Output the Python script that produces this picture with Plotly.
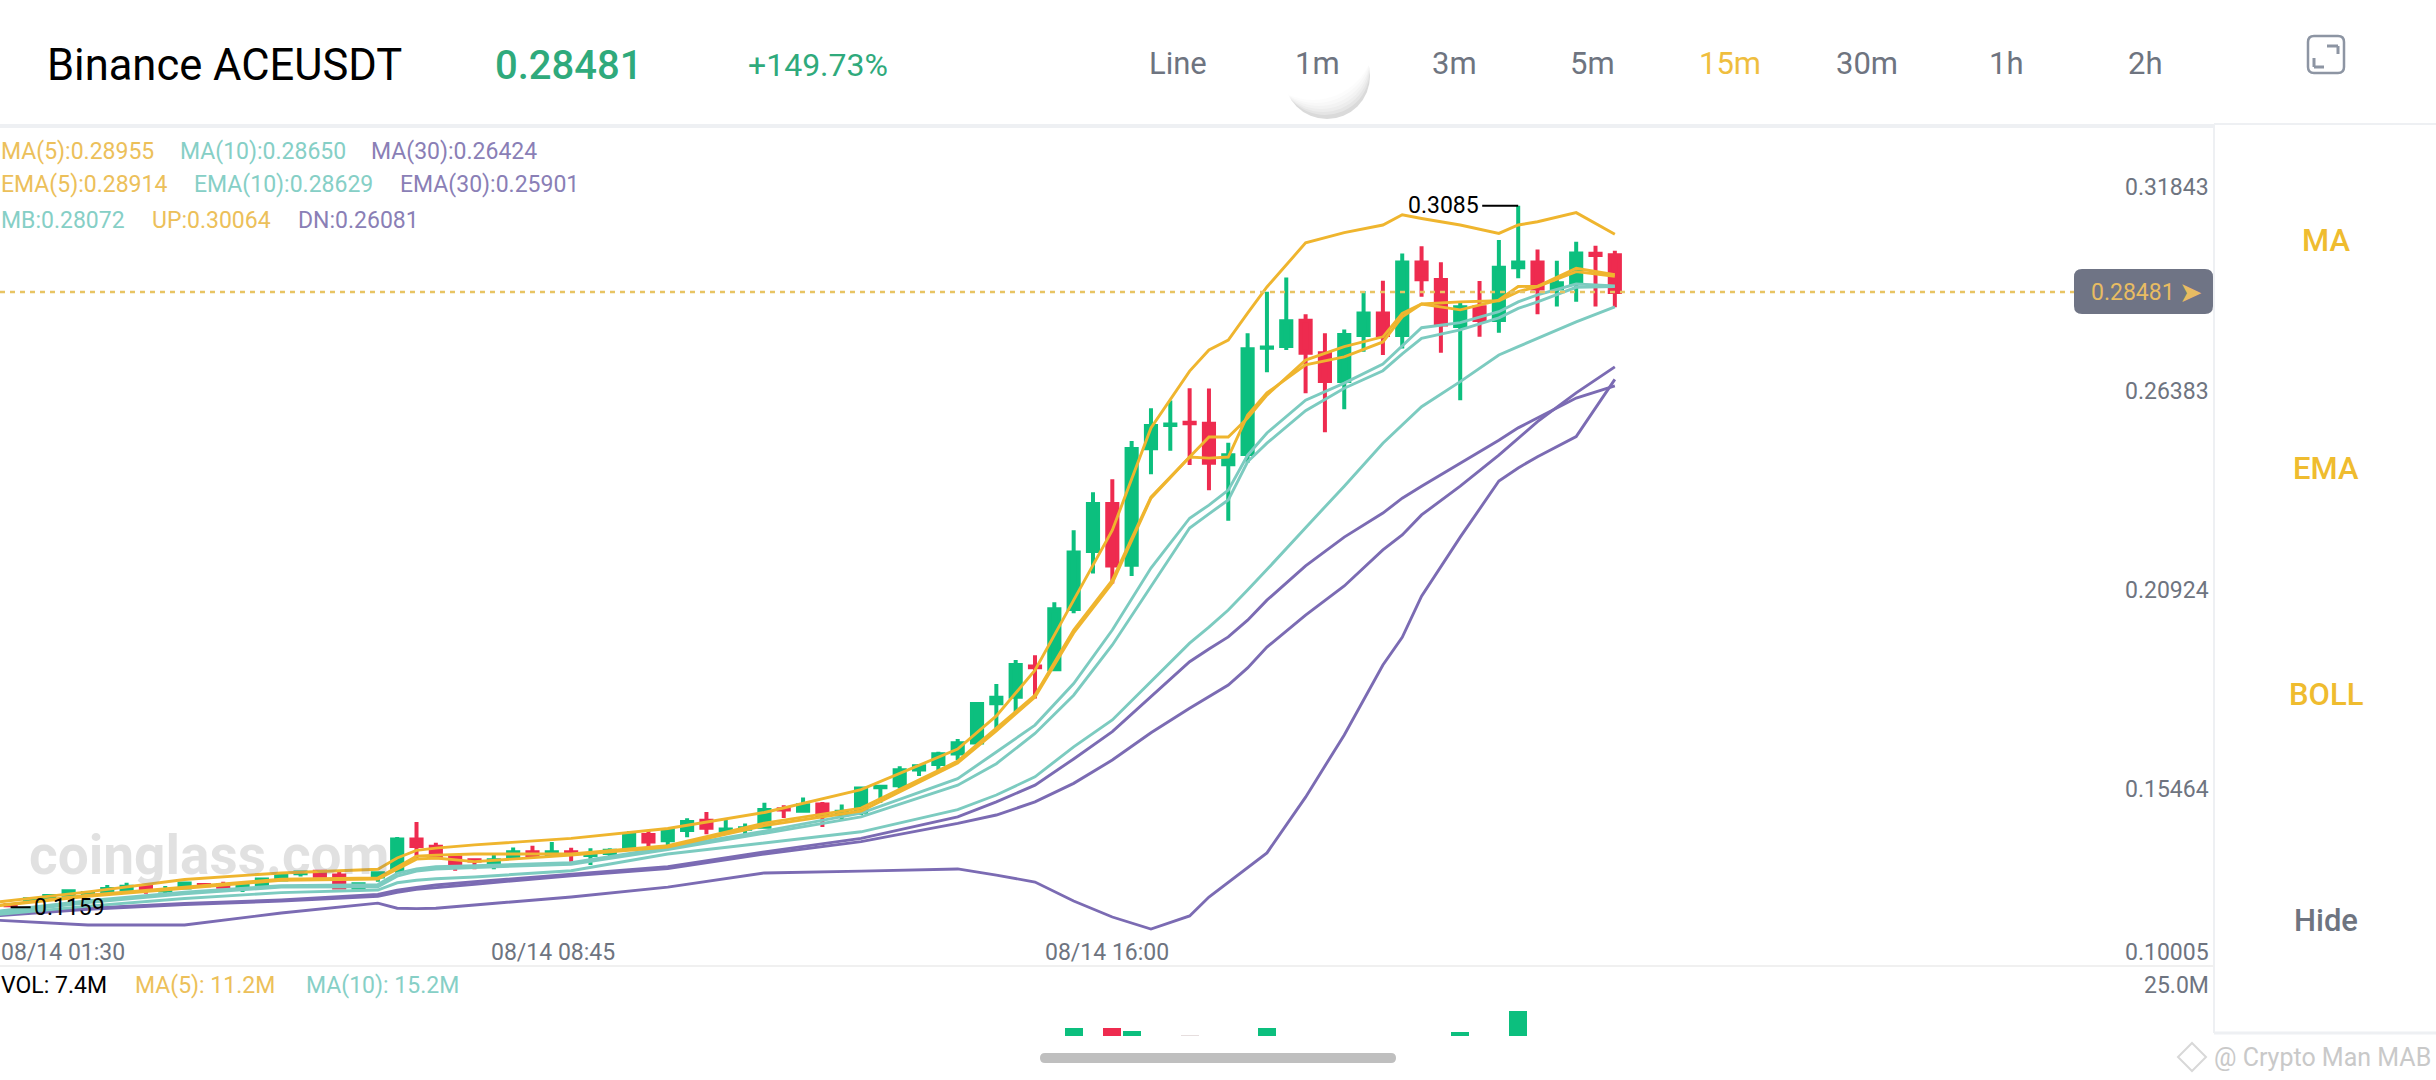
import pandas as pd
import plotly.graph_objects as go

W, H = 2436, 1080

# candles, 15 minutes apart
times = pd.date_range("2023-08-14 01:30", periods=85, freq="15min")
opens = [.1161, .1165, .1176, .1183, .1193, .1195, .1201, .1208, .1217, .1205,
         .1213, .1220, .1219, .1216, .1222, .1235, .1252, .1256, .1246, .1213,
         .1243, .1261, .1345, .1325, .1296, .1288, .1282, .1296, .1310, .1305,
         .1310, .1302, .1308, .1320, .1357, .1343, .1371, .1396, .1370, .1374,
         .1380, .1428, .1424, .1441, .1414, .1421, .1488, .1494, .1537, .1552,
         .1581, .1611, .1719, .1737, .1820, .1812, .1978, .2137, .2266, .2099,
         .2419, .2483, .2489, .2486, .2375, .2403, .2695, .2700, .2769, .2680,
         .2604, .2730, .2789, .2730, .2929, .2881, .2755, .2806, .2771, .2916,
         .2929, .2858, .2872, .2953, .2949]
closes = [.1162, .1164, .1181, .1190, .1203, .1198, .1209, .1215, .1208, .1206,
          .1224, .1219, .1215, .1217, .1235, .1250, .1254, .1245, .1213, .1222,
          .1252, .1345, .1327, .1296, .1279, .1287, .1288, .1310, .1301, .1310,
          .1307, .1303, .1314, .1357, .1339, .1371, .1393, .1377, .1372, .1376,
          .1426, .1427, .1439, .1412, .1421, .1485, .1490, .1535, .1546, .1579,
          .1609, .1717, .1734, .1824, .1818, .1977, .2133, .2266, .2097, .2417,
          .2480, .2484, .2488, .2379, .2400, .2691, .2696, .2768, .2681, .2604,
          .2730, .2789, .2730, .2929, .2883, .2759, .2806, .2771, .2915, .2929,
          .2858, .2872, .2954, .2950, .28481]
highs = [.1165, .1168, .1184, .1192, .1206, .1202, .1220, .1226, .1221, .1217,
         .1229, .1222, .1229, .1222, .1239, .1253, .1256, .1261, .1259, .1223,
         .1253, .1352, .1393, .1336, .1305, .1293, .1304, .1323, .1328, .1338,
         .1322, .1321, .1321, .1368, .1369, .1374, .1403, .1420, .1400, .1389,
         .1446, .1439, .1460, .1448, .1441, .1490, .1492, .1546, .1552, .1586,
         .1621, .1720, .1772, .1838, .1851, .1996, .2194, .2298, .2334, .2439,
         .2529, .2550, .2584, .2583, .2434, .2735, .2849, .2888, .2787, .2735,
         .2745, .2851, .2879, .2954, .2974, .2930, .2821, .2878, .2991, .3085,
         .2965, .2934, .2986, .2975, .2961]
lows = [.1160, .1159, .1174, .1180, .1189, .1191, .1198, .1198, .1196, .1198,
        .1210, .1213, .1213, .1201, .1220, .1231, .1243, .1243, .1212, .1212,
        .1229, .1250, .1293, .1296, .1259, .1263, .1263, .1293, .1296, .1297,
        .1284, .1275, .1296, .1320, .1320, .1329, .1351, .1359, .1357, .1359,
        .1379, .1404, .1418, .1379, .1396, .1412, .1446, .1485, .1519, .1531,
        .1563, .1609, .1650, .1691, .1732, .1810, .1966, .2075, .2048, .2068,
        .2348, .2412, .2373, .2304, .2220, .2379, .2628, .2689, .2570, .2463,
        .2526, .2684, .2675, .2693, .2835, .2681, .2551, .2725, .2736, .2886,
        .2787, .2808, .2821, .2808, .2806]

# indicator readings at these candles
line_idx = [0, 5, 10, 15, 20, 21, 22, 23, 25, 30, 35, 40, 45, 50, 52, 54, 56, 58, 60,
            62, 63, 64, 65, 66, 68, 70, 72, 73, 74, 76, 78, 79, 80, 82, 84]
up = [.1171, .1201, .1235, .1253, .1263, .1294, .1315, .1321, .1330, .1348, .1375,
      .1419, .1482, .1593, .1684, .1810, .2002, .2194, .2475, .2631, .2689, .2716,
      .2790, .2862, .2983, .3011, .3032, .3060, .3050, .3032, .3009, .3032, .3041, .3066, .30064]
ma5 = [.1162, .1192, .1214, .1236, .1239, .1270, .1299, .1302, .1305, .1305, .1328,
       .1390, .1431, .1560, .1651, .1741, .1920, .2057, .2285, .2395, .2392, .2395,
       .2510, .2571, .2648, .2670, .2711, .2780, .2815, .2799, .2826, .2863, .2864, .2913, .28955]
ema5 = [.1161, .1189, .1211, .1233, .1236, .1263, .1291, .1294, .1284, .1302, .1324,
        .1383, .1423, .1555, .1643, .1736, .1912, .2049, .2282, .2395, .2450, .2450,
        .2502, .2565, .2661, .2698, .2725, .2789, .2815, .2821, .2824, .2849, .2863, .2904, .28914]
ma10 = [.1146, .1177, .1200, .1218, .1221, .1252, .1264, .1270, .1273, .1281, .1323,
        .1368, .1417, .1512, .1585, .1659, .1773, .1920, .2090, .2227, .2263, .2304,
        .2400, .2461, .2551, .2598, .2650, .2700, .2750, .2764, .2794, .2821, .2840, .2870, .28650]
ema10 = [.1141, .1172, .1196, .1214, .1215, .1244, .1258, .1264, .1268, .1277, .1317,
         .1362, .1407, .1494, .1553, .1636, .1741, .1879, .2041, .2200, .2239, .2277,
         .2382, .2433, .2522, .2584, .2632, .2678, .2721, .2744, .2777, .2803, .2821, .2861, .28629]
mb = [.1137, .1162, .1183, .1199, .1206, .1226, .1233, .1237, .1242, .1259, .1305,
      .1336, .1366, .1427, .1467, .1517, .1599, .1673, .1778, .1884, .1928, .1975,
      .2030, .2086, .2201, .2315, .2433, .2483, .2533, .2602, .2675, .2698, .2721, .2766, .28072]
ema30 = [.1140, .1156, .1169, .1179, .1194, .1206, .1213, .1220, .1229, .1250, .1270,
         .1311, .1348, .1407, .1448, .1494, .1566, .1641, .1737, .1833, .1868, .1901,
         .1947, .2002, .2096, .2175, .2241, .2282, .2315, .2378, .2441, .2475, .2502, .2557, .25901]
ma30 = [.1134, .1153, .1166, .1176, .1189, .1200, .1208, .1213, .1222, .1245, .1265,
        .1305, .1339, .1389, .1412, .1448, .1499, .1563, .1638, .1705, .1736, .1769,
        .1816, .1873, .1961, .2041, .2140, .2181, .2236, .2315, .2400, .2447, .2492, .2571, .26424]
dn = [.1124, .1110, .1110, .1143, .1170, .1156, .1155, .1156, .1165, .1187, .1214,
      .1253, .1258, .1264, .1247, .1228, .1176, .1132, .1099, .1135, .1187, .1228,
      .1269, .1308, .1461, .1632, .1824, .1900, .2013, .2175, .2329, .2365, .2396, .2451, .26081]

# only the tallest volume bars show above the cut-off panel
vol_idx = [56, 58, 59, 62, 66, 76, 79]
vol_values = [12.7, 12.6, 12.0, 11.2, 12.7, 11.9, 16.1]
vol_colors = ["#0CBF7E", "#EE2B4F", "#0CBF7E", "#E6DEDE", "#0CBF7E", "#0CBF7E", "#0CBF7E"]

last_price = 0.28481
y_ticks = [0.31843, 0.26383, 0.20924, 0.15464, 0.10005]
y_tick_labels = ["0.31843", "0.26383", "0.20924", "0.15464", "0.10005"]
x_tick_labels = ["08/14 01:30", "08/14 08:45", "08/14 16:00"]
intervals = ["Line", "1m", "3m", "5m", "15m", "30m", "1h", "2h"]
side_buttons = ["MA", "EMA", "BOLL", "Hide"]

ORANGE = "#EFB52E"
TEAL = "#7CCBC0"
PURPLE = "#7B6BB3"
T_ORANGE = "#ECC05A"
T_TEAL = "#86CFC6"
T_PURPLE = "#8A7FB6"
GREY = "#6E7480"
FONT = "Roboto"

fig = go.Figure()

fig.add_trace(go.Candlestick(
    x=times, open=opens, high=highs, low=lows, close=closes,
    increasing=dict(line=dict(color="#0CBF7E", width=4), fillcolor="#0CBF7E"),
    decreasing=dict(line=dict(color="#EE2B4F", width=4), fillcolor="#EE2B4F"),
    whiskerwidth=0, showlegend=False,
))

line_times = times[line_idx]
for values, color in [(dn, PURPLE), (ma30, PURPLE), (ema30, PURPLE), (mb, TEAL),
                      (ema10, TEAL), (ma10, TEAL), (up, ORANGE), (ema5, ORANGE), (ma5, ORANGE)]:
    fig.add_trace(go.Scatter(x=line_times, y=values, mode="lines",
                             line=dict(color=color, width=2.9), showlegend=False))

fig.add_trace(go.Bar(x=times[vol_idx], y=vol_values, yaxis="y2", width=838000,
                     marker=dict(color=vol_colors, line=dict(width=0)), showlegend=False))


def pa(x, y):
    return dict(x=x / W, y=1 - y / H, xref="paper", yref="paper")


def label(x, y, text, size=23, color=GREY, anchor="left", weight=None, family=FONT):
    fig.add_annotation(**pa(x, y), text=text, showarrow=False, xanchor=anchor, yanchor="middle",
                       borderpad=0, font=dict(size=size, color=color, family=family, weight=weight))


def round_rect(x0, y0, x1, y1, r):
    X = lambda v: v / W
    Y = lambda v: 1 - v / H
    return (f"M{X(x0 + r)},{Y(y0)} L{X(x1 - r)},{Y(y0)} Q{X(x1)},{Y(y0)} {X(x1)},{Y(y0 + r)} "
            f"L{X(x1)},{Y(y1 - r)} Q{X(x1)},{Y(y1)} {X(x1 - r)},{Y(y1)} "
            f"L{X(x0 + r)},{Y(y1)} Q{X(x0)},{Y(y1)} {X(x0)},{Y(y1 - r)} "
            f"L{X(x0)},{Y(y0 + r)} Q{X(x0)},{Y(y0)} {X(x0 + r)},{Y(y0)} Z")


def px_line(x0, y0, x1, y1, color, width):
    fig.add_shape(type="line", xref="paper", yref="paper", x0=x0 / W, x1=x1 / W,
                  y0=1 - y0 / H, y1=1 - y1 / H, line=dict(color=color, width=width))


def px_path(path, fill=None, line=None, width=0):
    fig.add_shape(type="path", xref="paper", yref="paper", path=path, fillcolor=fill,
                  line=dict(color=line, width=width))


# press ripple behind "1m": soft grey low down, fading upward to white
for dx, dy, r, color, op in [(0, 0, 43, "#DADADA", 1), (-2, -6, 45, "#FFFFFF", .3), (-4, -11, 47, "#FFFFFF", .3),
                             (-6, -16, 49, "#FFFFFF", .35), (-8, -22, 52, "#FFFFFF", .4),
                             (-11, -29, 56, "#FFFFFF", .55), (-14, -38, 62, "#FFFFFF", .8)]:
    fig.add_shape(type="circle", xref="paper", yref="paper", line=dict(width=0), fillcolor=color, opacity=op,
                  x0=(1327 + dx - r) / W, x1=(1327 + dx + r) / W,
                  y0=1 - (76 + dy + r) / H, y1=1 - (76 + dy - r) / H)

# frame lines
px_line(0, 126, 2214, 126, "#EEF0F3", 4)
px_line(2214, 124, W, 124, "#EEF0F3", 2)
px_line(2214, 124, 2214, 1033, "#EEF0F3", 2)
px_line(2214, 1033, W, 1033, "#EEF0F3", 3)
px_line(0, 966, 2214, 966, "#F0F0F0", 2)

# last price line and tag
fig.add_shape(type="line", xref="paper", yref="y", x0=0, x1=2074 / W, y0=last_price, y1=last_price,
              line=dict(color="#E8C463", width=2.5, dash="5px,5px"))
px_path(round_rect(2074, 269, 2213, 314, 8), fill="#6F7485")
label(2090, 292, f"{last_price:.5f}", color="#E8BC62")
label(2178, 292, "➤", size=28, color="#E8BC62", family="DejaVu Sans")

# scroll pill
px_path(round_rect(1040, 1053, 1396, 1063, 5), fill="#BFBFBF")

# expand icon
px_path(round_rect(2308, 36, 2344, 73, 6), line="#8D95A3", width=2.5)
px_line(2327, 46, 2338, 46, "#8D95A3", 3)
px_line(2338, 46, 2338, 54, "#8D95A3", 3)
px_line(2314, 58, 2314, 67, "#8D95A3", 3)
px_line(2314, 67, 2324, 67, "#8D95A3", 3)

# source mark icon
px_path(f"M{2192/W},{1-1043/H} L{2206/W},{1-1057/H} L{2192/W},{1-1071/H} L{2178/W},{1-1057/H} Z",
        line="#D8D8D8", width=2)

# header
label(46, 65, "Binance ACEUSDT", size=43.5, color="#000000")
label(494, 65, f"{last_price:.5f}", size=40, color="#2FAA7C", weight=500)
label(747, 65, "+149.73%", size=32, color="#2FAA7C")
for name, x in zip(intervals, [1178, 1317, 1454, 1592, 1730, 1867, 2006, 2145]):
    label(x, 64, name, size=31, anchor="center", color="#EFBE3E" if name == "15m" else GREY)

# indicator readouts
rows = [
    (151, [(0, "MA(5):0.28955", T_ORANGE), (179, "MA(10):0.28650", T_TEAL), (370, "MA(30):0.26424", T_PURPLE)]),
    (185, [(0, "EMA(5):0.28914", T_ORANGE), (193, "EMA(10):0.28629", T_TEAL), (399, "EMA(30):0.25901", T_PURPLE)]),
    (220, [(0, "MB:0.28072", T_TEAL), (151, "UP:0.30064", T_ORANGE), (297, "DN:0.26081", T_PURPLE)]),
]
for y, items in rows:
    for x, text, color in items:
        label(x, y, text, color=color)

label(0, 985, "VOL: 7.4M", color="#000000")
label(134, 985, "MA(5): 11.2M", color=T_ORANGE)
label(305, 985, "MA(10): 15.2M", color=T_TEAL)
label(2210, 985, "25.0M", anchor="right")

# price labels sit below their levels, the bottom one above
for value, text in zip(y_ticks, y_tick_labels):
    shift = 12 if value == y_ticks[-1] else -18 if value == y_ticks[0] else -23
    fig.add_annotation(xref="paper", yref="y", x=2210 / W, y=value, yshift=shift, text=text, showarrow=False,
                       xanchor="right", yanchor="middle", borderpad=0, font=dict(size=23, color=GREY, family=FONT))

for text, x, anchor in zip(x_tick_labels, [0, 553, 1107], ["left", "center", "center"]):
    label(x, 952, text, anchor=anchor)

for name, y in zip(side_buttons, [241, 468, 694, 920]):
    label(2326, y, name, size=31, anchor="center", color=GREY if name == "Hide" else "#EFBC2F", weight=500)

label(2213, 1057, "@ Crypto Man MAB", size=25, color="#C9C9C9")
label(28, 855, "coinglass.com", size=55, color="rgba(120,120,120,0.22)", weight=700)

# high and low marks
fig.add_annotation(x=times[79], y=max(highs), text="0.3085", showarrow=True, arrowhead=0, arrowwidth=2,
                   arrowcolor="#000000", ax=-75, ay=0, borderpad=3, startstandoff=0, standoff=0,
                   font=dict(size=23, color="#000000", family=FONT))
fig.add_annotation(x=times[1], y=min(lows), text="0.1159", showarrow=True, arrowhead=0, arrowwidth=2,
                   arrowcolor="#000000", ax=59, ay=0, borderpad=3, standoff=0,
                   font=dict(size=23, color="#000000", family=FONT))

fig.update_layout(
    width=W, height=H, margin=dict(l=0, r=0, t=0, b=0),
    paper_bgcolor="#FFFFFF", plot_bgcolor="#FFFFFF",
    showlegend=False, boxgap=0.25, bargap=0,
    xaxis=dict(domain=[0, 2214 / W], range=["2023-08-14 01:36:45", "2023-08-15 06:15"], type="date",
               rangeslider=dict(visible=False), showgrid=False, zeroline=False, showticklabels=False,
               ticks="", anchor="y2"),
    yaxis=dict(domain=[1 - 966 / H, 1 - 125 / H], range=[0.09975, 0.33066], showgrid=False,
               zeroline=False, showticklabels=False, ticks="", anchor="x"),
    yaxis2=dict(domain=[1 - 1036 / H, 1 - 966 / H], range=[11, 25.3], showgrid=False,
                zeroline=False, showticklabels=False, ticks="", anchor="x"),
)

fig.write_html("out.html", config={"displayModeBar": False},
               post_script="document.body.style.margin='0';document.body.style.overflow='hidden';")
